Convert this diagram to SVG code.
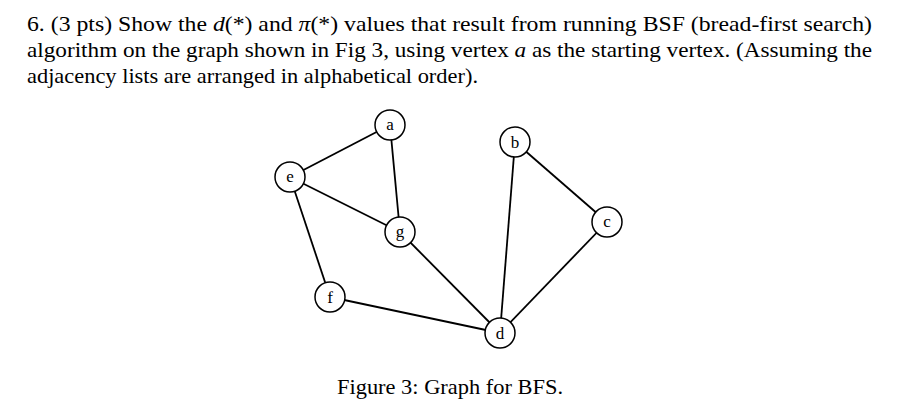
<svg xmlns="http://www.w3.org/2000/svg" width="899" height="420" viewBox="0 0 899 420">
<style>
text{font-family:"Liberation Serif",serif;fill:#000}
.p{font-size:21px}
.n circle{fill:#fff;stroke:#000;stroke-width:1.5}
.n text{font-size:17px;text-anchor:middle}
#edges line{stroke:#000;stroke-width:1.8}
</style>
<rect width="899" height="420" fill="#fff"/>
<text class="p" x="27" y="31" textLength="845" lengthAdjust="spacingAndGlyphs">6.  (3 pts) Show the <tspan font-style="italic">d</tspan>(*) and <tspan font-style="italic">π</tspan>(*) values that result from running BSF (bread-first search)</text>
<text class="p" x="27" y="57" textLength="845" lengthAdjust="spacingAndGlyphs">algorithm on the graph shown in Fig 3, using vertex <tspan font-style="italic">a</tspan> as the starting vertex. (Assuming the</text>
<text class="p" x="27" y="83" textLength="451" lengthAdjust="spacingAndGlyphs">adjacency lists are arranged in alphabetical order).</text>
<g id="edges">
<line x1="390" y1="125" x2="290" y2="177"/>
<line x1="390" y1="125" x2="400" y2="232"/>
<line x1="290" y1="177" x2="400" y2="232"/>
<line x1="290" y1="177" x2="330" y2="297"/>
<line x1="330" y1="297" x2="500" y2="333"/>
<line x1="400" y1="232" x2="500" y2="333"/>
<line x1="515" y1="142" x2="500" y2="333"/>
<line x1="515" y1="142" x2="607" y2="222"/>
<line x1="607" y1="222" x2="500" y2="333"/>
</g>
<g id="a" class="n"><circle cx="390" cy="125" r="15"/><text x="390" y="130">a</text></g>
<g id="b" class="n"><circle cx="515" cy="142" r="15"/><text x="515" y="148">b</text></g>
<g id="c" class="n"><circle cx="607" cy="222" r="15"/><text x="607" y="227">c</text></g>
<g id="e" class="n"><circle cx="290" cy="177" r="15"/><text x="290" y="182">e</text></g>
<g id="g" class="n"><circle cx="400" cy="232" r="15"/><text x="400" y="237">g</text></g>
<g id="f" class="n"><circle cx="330" cy="297" r="15"/><text x="330" y="303">f</text></g>
<g id="d" class="n"><circle cx="500" cy="333" r="15"/><text x="500" y="339">d</text></g>
<text class="p" x="450" y="394" text-anchor="middle" textLength="226" lengthAdjust="spacingAndGlyphs">Figure 3: Graph for BFS.</text>
</svg>
